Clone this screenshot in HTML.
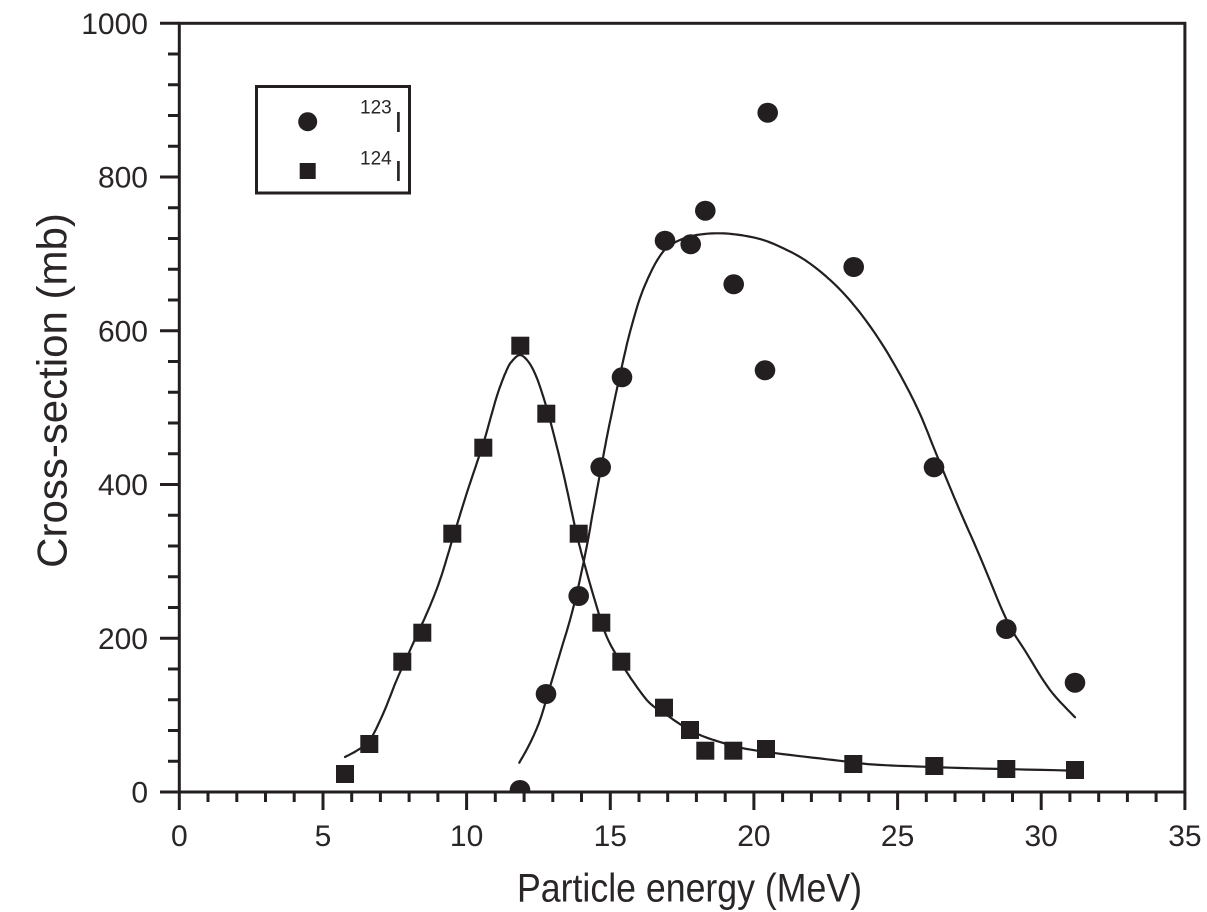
<!DOCTYPE html>
<html>
<head>
<meta charset="utf-8">
<style>
  html, body { margin: 0; padding: 0; background: #ffffff; }
  svg { display: block; }
  text { font-family: "Liberation Sans", Arial, sans-serif; fill: #2a2627; }
</style>
</head>
<body>
<svg width="1207" height="912" viewBox="0 0 1207 912" xmlns="http://www.w3.org/2000/svg">
  <defs>
    <clipPath id="plot">
      <rect x="179" y="23" width="1006" height="768"/>
    </clipPath>
  </defs>
  <rect x="0" y="0" width="1207" height="912" fill="#ffffff"/>

  <!-- Frame -->
  <rect x="179.3" y="23.3" width="1005.6" height="768.7" fill="none" stroke="#231f20" stroke-width="3"/>

  <!-- X ticks -->
  <g stroke="#231f20" stroke-width="3" fill="none">
    <path d="M179.3 792V810 M323.0 792V810 M466.6 792V810 M610.3 792V810 M753.9 792V810 M897.6 792V810 M1041.2 792V810 M1184.9 792V810"/>
    <path d="M208.0 792V802 M236.8 792V802 M265.5 792V802 M294.2 792V802
             M351.7 792V802 M380.4 792V802 M409.1 792V802 M437.9 792V802
             M495.3 792V802 M524.1 792V802 M552.8 792V802 M581.5 792V802
             M639.0 792V802 M667.7 792V802 M696.4 792V802 M725.2 792V802
             M782.6 792V802 M811.4 792V802 M840.1 792V802 M868.8 792V802
             M926.3 792V802 M955.0 792V802 M983.7 792V802 M1012.5 792V802
             M1069.9 792V802 M1098.7 792V802 M1127.4 792V802 M1156.1 792V802"/>
    <!-- Y ticks -->
    <path d="M160 792H179.3 M160 638.3H179.3 M160 484.5H179.3 M160 330.8H179.3 M160 177.0H179.3 M160 23.3H179.3"/>
    <path d="M168 761.3H179.3 M168 730.5H179.3 M168 699.8H179.3 M168 669.0H179.3
             M168 607.5H179.3 M168 576.8H179.3 M168 546.0H179.3 M168 515.3H179.3
             M168 453.8H179.3 M168 423.0H179.3 M168 392.3H179.3 M168 361.5H179.3
             M168 300.0H179.3 M168 269.3H179.3 M168 238.5H179.3 M168 207.8H179.3
             M168 146.3H179.3 M168 115.5H179.3 M168 84.8H179.3 M168 54.0H179.3"/>
  </g>

  <!-- X tick labels -->
  <g font-size="30" text-anchor="middle">
    <text x="179.3" y="846">0</text>
    <text x="323.0" y="846">5</text>
    <text x="466.6" y="846">10</text>
    <text x="610.3" y="846">15</text>
    <text x="753.9" y="846">20</text>
    <text x="897.6" y="846">25</text>
    <text x="1041.2" y="846">30</text>
    <text x="1184.9" y="846">35</text>
  </g>
  <!-- Y tick labels -->
  <g font-size="30" text-anchor="end">
    <text x="148" y="802.5">0</text>
    <text x="148" y="648.8">200</text>
    <text x="148" y="495">400</text>
    <text x="148" y="341.3">600</text>
    <text x="148" y="187.5">800</text>
    <text x="148" y="33.8">1000</text>
  </g>

  <!-- Axis titles -->
  <text x="517" y="901.5" font-size="40" textLength="345" lengthAdjust="spacingAndGlyphs">Particle energy (MeV)</text>
  <text transform="translate(66.5,390.5) rotate(-90)" font-size="42" text-anchor="middle">Cross-section (mb)</text>

  <!-- Curves -->
  <g clip-path="url(#plot)" fill="none" stroke="#231f20" stroke-width="2.2" stroke-linejoin="round" stroke-linecap="round">
    <polyline class="smooth" points="345,757 357,750.5 369.3,741 383,714 396.7,680 413.3,643 430,606 441,577 452.3,540 466.7,493.3 483.3,443.3 496.7,396.7 506.7,370 513,360 520,355 527,360 533.3,370 540,386.7 550,420 563.3,473.3 575,526.7 583.3,560 596.7,606.7 606.7,636.7 621.3,663.3 636.7,686.7 650,703.3 666.7,715 683,726 700,735 720,742 743.3,748.3 776.7,753.3 833.3,760 873.3,764.5 923.3,766.7 973.3,768.3 1075,770.7"/>
    <polyline class="smooth" points="519.3,762.7 530,743.3 540,720 550,686.7 560,653.3 570,620 578.3,586.7 586.7,546.7 593.3,510 600.7,470 608.3,430 616.7,390 623.3,360 630,332 640,298 650,274 658,259 667,247.5 680,240 696.7,235 718.3,233.3 740,235 763.3,240 783.3,248.3 803.3,259 823.3,274 843.3,293 863.3,317 883.3,346 903,380 920,414 936.7,455 956.7,503.3 980,556.7 1006.7,620 1026.7,653.3 1050,690 1075,717.3"/>
  </g>

  <!-- 124I squares -->
  <g fill="#231f20">
    <rect x="336" y="765" width="18" height="18"/>
    <rect x="360.3" y="735" width="18" height="18"/>
    <rect x="393.3" y="652.7" width="18" height="18"/>
    <rect x="413.3" y="623.7" width="18" height="18"/>
    <rect x="443.3" y="524.7" width="18" height="18"/>
    <rect x="474.3" y="438.7" width="18" height="18"/>
    <rect x="511.3" y="336.7" width="18" height="18"/>
    <rect x="537.3" y="404.7" width="18" height="18"/>
    <rect x="569.7" y="524.7" width="18" height="18"/>
    <rect x="592.3" y="613.7" width="18" height="18"/>
    <rect x="612.3" y="652.7" width="18" height="18"/>
    <rect x="655" y="698.7" width="18" height="18"/>
    <rect x="681" y="721" width="18" height="18"/>
    <rect x="696.3" y="741.7" width="18" height="18"/>
    <rect x="724.3" y="741.7" width="18" height="18"/>
    <rect x="757" y="740" width="18" height="18"/>
    <rect x="844.3" y="755" width="18" height="18"/>
    <rect x="925.3" y="757" width="18" height="18"/>
    <rect x="997.3" y="760" width="18" height="18"/>
    <rect x="1066" y="761" width="18" height="18"/>
  </g>

  <!-- 123I circles -->
  <g fill="#231f20" clip-path="url(#plot)">
    <ellipse cx="520" cy="790" rx="10.3" ry="10"/>
    <ellipse cx="546" cy="694" rx="10.3" ry="10"/>
    <ellipse cx="578.7" cy="596" rx="10.3" ry="10"/>
    <ellipse cx="600.7" cy="467.3" rx="10.3" ry="10"/>
    <ellipse cx="622" cy="377.3" rx="10.3" ry="10"/>
    <ellipse cx="665" cy="240.7" rx="10.3" ry="10"/>
    <ellipse cx="690.7" cy="244.3" rx="10.3" ry="10"/>
    <ellipse cx="705.3" cy="210.7" rx="10.3" ry="10"/>
    <ellipse cx="733.7" cy="284.3" rx="10.3" ry="10"/>
    <ellipse cx="765" cy="370.3" rx="10.3" ry="10"/>
    <ellipse cx="767.7" cy="112.7" rx="10.3" ry="10"/>
    <ellipse cx="853.7" cy="267" rx="10.3" ry="10"/>
    <ellipse cx="934" cy="467.3" rx="10.3" ry="10"/>
    <ellipse cx="1006.3" cy="629" rx="10.3" ry="10"/>
    <ellipse cx="1075" cy="682.7" rx="10.3" ry="10"/>
  </g>

  <!-- Legend -->
  <rect x="256.5" y="86.5" width="153" height="106.5" fill="#ffffff" stroke="#231f20" stroke-width="3"/>
  <circle cx="307.7" cy="121.7" r="9.5" fill="#231f20"/>
  <rect x="299.7" y="163" width="16" height="16" fill="#231f20"/>
  <text x="360" y="113.3" font-size="19">123</text>
  <text x="394.4" y="132" font-size="29">I</text>
  <text x="360" y="164.5" font-size="19">124</text>
  <text x="394.4" y="181" font-size="29">I</text>
</svg>
<script>
(function(){
  var pls = document.querySelectorAll('polyline.smooth');
  for (var k = 0; k < pls.length; k++) {
    var pl = pls[k];
    var raw = pl.getAttribute('points').trim().split(/\s+/);
    var pts = [];
    for (var j = 0; j < raw.length; j++) { var a = raw[j].split(','); pts.push([+a[0], +a[1]]); }
    var out = [];
    for (var i = 0; i < pts.length - 1; i++) {
      var p0 = pts[Math.max(i - 1, 0)], p1 = pts[i], p2 = pts[i + 1], p3 = pts[Math.min(i + 2, pts.length - 1)];
      for (var s = 0; s < 8; s++) {
        var t = s / 8, t2 = t * t, t3 = t2 * t;
        var x = 0.5 * (2 * p1[0] + (-p0[0] + p2[0]) * t + (2 * p0[0] - 5 * p1[0] + 4 * p2[0] - p3[0]) * t2 + (-p0[0] + 3 * p1[0] - 3 * p2[0] + p3[0]) * t3);
        var y = 0.5 * (2 * p1[1] + (-p0[1] + p2[1]) * t + (2 * p0[1] - 5 * p1[1] + 4 * p2[1] - p3[1]) * t2 + (-p0[1] + 3 * p1[1] - 3 * p2[1] + p3[1]) * t3);
        out.push(x.toFixed(1) + ',' + y.toFixed(1));
      }
    }
    var last = pts[pts.length - 1];
    out.push(last[0] + ',' + last[1]);
    pl.setAttribute('points', out.join(' '));
  }
})();
</script>
</body>
</html>
